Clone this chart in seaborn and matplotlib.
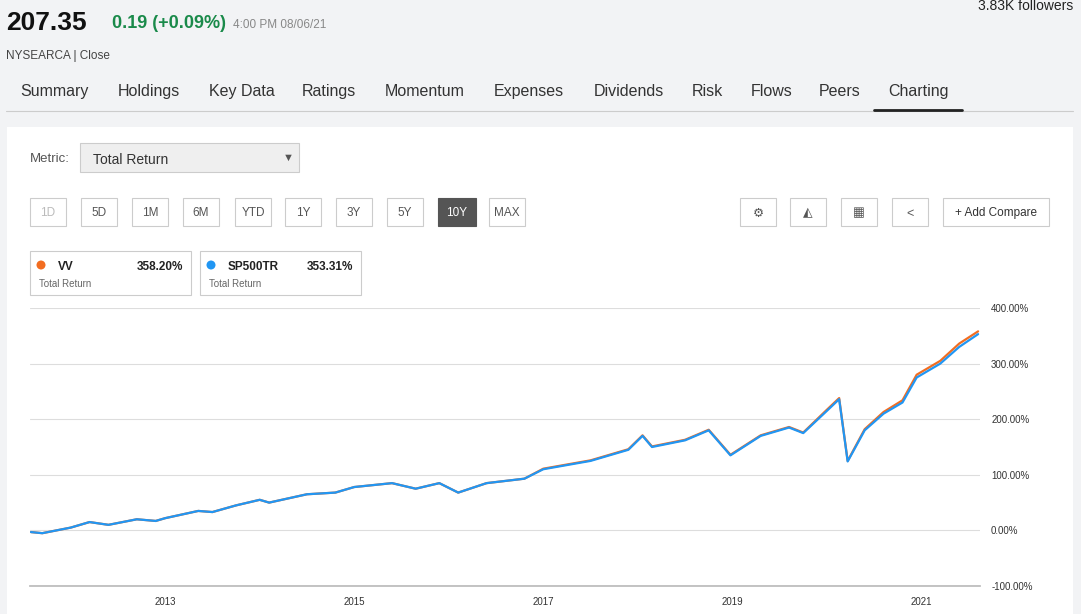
import matplotlib
matplotlib.use('Agg')
import matplotlib.pyplot as plt
import matplotlib.patches as mpatches
import seaborn as sns
import pandas as pd

years = [2011.58, 2011.7, 2011.85, 2012.0, 2012.2, 2012.4, 2012.7, 2012.9, 2013.0, 2013.35,
         2013.5, 2013.75, 2014.0, 2014.1, 2014.5, 2014.8, 2015.0, 2015.4, 2015.65, 2015.9,
         2016.1, 2016.4, 2016.8, 2017.0, 2017.5, 2017.9, 2018.05, 2018.15, 2018.5, 2018.75,
         2018.98, 2019.3, 2019.6, 2019.75, 2020.0, 2020.13, 2020.22, 2020.4, 2020.6, 2020.8,
         2020.95, 2021.2, 2021.4, 2021.6]
sp500tr = [-3, -5, 0, 5, 15, 10, 20, 17, 22, 35,
           33, 45, 55, 50, 65, 68, 78, 85, 75, 85,
           68, 85, 93, 110, 125, 145, 170, 150, 162, 180,
           135, 170, 185, 175, 215, 236, 124, 180, 210, 230,
           275, 300, 330, 353]
vv = [-3, -5, 0, 5, 15, 10, 20, 17, 22, 35,
      33, 45, 55, 50, 65, 68, 78, 85, 75, 85,
      68, 85, 93, 111, 126, 146, 171, 151, 163, 181,
      136, 171, 186, 176, 217, 238, 125, 182, 213, 234,
      280, 305, 336, 358]
yticks = [-100, 0, 100, 200, 300, 400]
xticks = [2013, 2015, 2017, 2019, 2021]
tabs = ['Summary', 'Holdings', 'Key Data', 'Ratings', 'Momentum', 'Expenses',
        'Dividends', 'Risk', 'Flows', 'Peers', 'Charting']
tab_x = [20, 118, 209, 302, 385, 494, 594, 692, 751, 819, 888]
ranges = ['1D', '5D', '1M', '6M', 'YTD', '1Y', '3Y', '5Y', '10Y', 'MAX']
range_x = [30, 81, 132, 183, 235, 285, 336, 387, 438, 489]
range_w = [36, 36, 36, 36, 36, 36, 36, 36, 38, 36]

df = pd.concat([
    pd.DataFrame({'year': years, 'ret': vv, 'series': 'VV'}),
    pd.DataFrame({'year': years, 'ret': sp500tr, 'series': 'SP500TR'}),
])

sns.set_theme(style='white')
plt.rcParams['font.family'] = ['Arial', 'Liberation Sans', 'DejaVu Sans']
W, H = 1081, 614
fig = plt.figure(figsize=(W / 100, H / 100), dpi=100, facecolor='#f2f3f5')

def px(x, y):
    return x / W, 1 - y / H

def rect(x, y, w, h, fc='white', ec='#cccccc', lw=0.8):
    fig.patches.append(mpatches.Rectangle(px(x, y + h), w / W, h / H, transform=fig.transFigure,
                                          facecolor=fc, edgecolor=ec, linewidth=lw, zorder=0))

def txt(x, y, s, **kw):
    fig.text(*px(x, y), s, va='center_baseline', **kw)

# header
txt(6, 20, '207.35', fontsize=19, fontweight='bold', color='#111111')
txt(112, 21, '0.19 (+0.09%)', fontsize=13, fontweight='bold', color='#1a8a4a')
txt(233, 23, '4:00 PM 08/06/21', fontsize=8.5, color='#888888')
txt(1073, 4, '3.83K followers', fontsize=10, color='#222222', ha='right')
txt(6, 54, 'NYSEARCA | Close', fontsize=8.5, color='#444444')
for t, x in zip(tabs, tab_x):
    txt(x, 90, t, fontsize=11.5, color='#333333')
fig.add_artist(plt.Line2D([6 / W, 1073 / W], [1 - 111 / H] * 2, color='#cccccc', lw=0.8))
fig.add_artist(plt.Line2D([874 / W, 962 / W], [1 - 110 / H] * 2, color='#222222', lw=2))

# panel
rect(7, 127, 1066, 500, ec='none')
txt(30, 158, 'Metric:', fontsize=9.5, color='#555555')
rect(80, 143, 219, 29, fc='#efefef', ec='#cccccc')
txt(93, 158, 'Total Return', fontsize=10, color='#333333')
txt(288, 157, '▼', fontsize=8, color='#555555', ha='center')
for r, x, w in zip(ranges, range_x, range_w):
    sel = r == '10Y'
    rect(x, 198, w, 28, fc='#555555' if sel else 'white', ec='#555555' if sel else '#cccccc')
    col = 'white' if sel else ('#bbbbbb' if r == '1D' else '#555555')
    txt(x + w / 2, 212, r, fontsize=8.5, color=col, ha='center')
for x, sym in zip([740, 790, 841, 892], ['⚙', '◭', '▦', '<']):
    rect(x, 198, 36, 28)
    txt(x + 18, 212, sym, fontsize=9, color='#555555', ha='center')
rect(943, 198, 106, 28)
txt(996, 212, '+ Add Compare', fontsize=8.5, color='#333333', ha='center')
for x, nm, val, c in [(30, 'VV', '358.20%', '#f26d21'), (200, 'SP500TR', '353.31%', '#2196f3')]:
    rect(x, 251, 161, 44)
    fig.patches.append(mpatches.Ellipse(px(x + 11, 265), 9 / W, 9 / H, transform=fig.transFigure,
                                        facecolor=c, edgecolor='none'))
    txt(x + 28, 265, nm, fontsize=8.5, fontweight='bold', color='#222222')
    txt(x + 153, 265, val, fontsize=8.5, fontweight='bold', color='#222222', ha='right')
    txt(x + 9, 283, 'Total Return', fontsize=7, color='#666666')

# chart
ax = fig.add_axes([30 / W, 1 - 586 / H, 950 / W, 278 / H])
ax.set_zorder(5)
ax.set_facecolor('white')
sns.lineplot(data=df, x='year', y='ret', hue='series', palette={'VV': '#f26d21', 'SP500TR': '#2196f3'},
             linewidth=1.6, legend=False, ax=ax)
ax.set_xlim(2011.57, 2021.62)
ax.set_ylim(-100, 400)
ax.set_yticks(yticks)
ax.set_yticklabels([f'{v:.2f}%' for v in yticks], fontsize=7, color='#333333')
ax.yaxis.tick_right()
ax.set_xticks(xticks)
ax.set_xticklabels([str(v) for v in xticks], fontsize=7, color='#333333')
ax.tick_params(length=0, pad=8)
ax.grid(axis='y', color='#dddddd', lw=0.8)
for s in ['top', 'left', 'right']:
    ax.spines[s].set_visible(False)
ax.spines['bottom'].set_color('#bbbbbb')
ax.set_xlabel('')
ax.set_ylabel('')

fig.savefig('out.png', dpi=100, facecolor=fig.get_facecolor())
